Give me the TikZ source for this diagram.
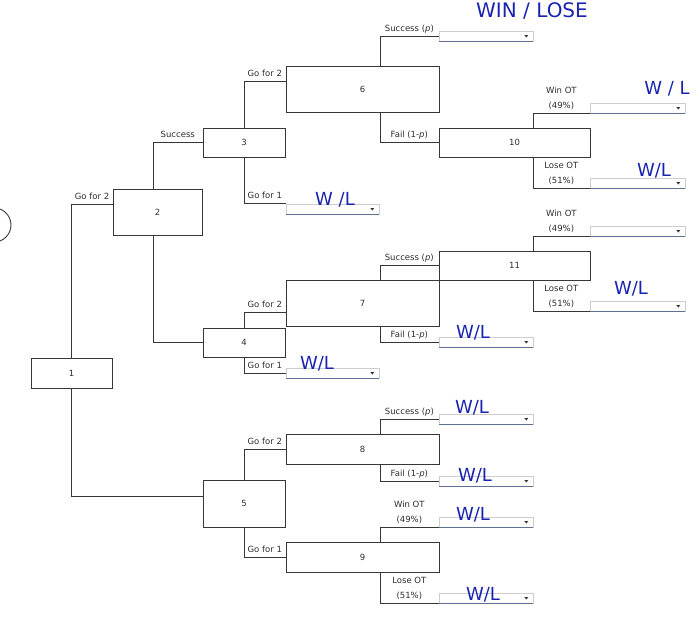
\documentclass[tikz,border=0pt]{standalone}
\usepackage{fontspec}
\setmainfont{DejaVu Sans}
\usepackage{xcolor}
\usepackage{tikz}
\usetikzlibrary{positioning, calc}
\definecolor{linegray}{RGB}{55, 55, 55}
\definecolor{textgray}{RGB}{45, 45, 45}
\definecolor{penblue}{RGB}{25, 35, 175}
\definecolor{menuedge}{RGB}{205, 205, 205}
\definecolor{menubase}{RGB}{95, 115, 145}

\begin{document}
\begin{tikzpicture}[x=1pt, y=-1pt,
    box/.style={draw=linegray, line width=0.8pt, inner sep=0pt, text=textgray,
                font=\fontsize{8.5}{10}\selectfont},
    link/.style={draw=linegray, line width=0.8pt},
    lbl/.style={font=\fontsize{8.5}{15}\selectfont, text=textgray, align=center,
                inner sep=2pt, text depth=2.5pt},
    menu/.style={draw=menuedge, line width=0.6pt, minimum height=10pt, inner sep=0pt},
    pen/.style={font=\fontsize{18}{18}\selectfont, text=penblue, inner sep=0pt}]
    \useasboundingbox (0,0) rectangle (700,629);

    % Boxes
    \node[box, minimum width=81pt, minimum height=30pt] (b1) at (71.5,373) {1};
    \node[box, minimum width=89pt, minimum height=46pt] (b2) at (157.5,212) {2};
    \node[box, minimum width=82pt, minimum height=29pt] (b3) at (244,142.5) {3};
    \node[box, minimum width=82pt, minimum height=29pt] (b4) at (244,342.5) {4};
    \node[box, minimum width=82pt, minimum height=47pt] (b5) at (244,503.5) {5};
    \node[box, minimum width=153pt, minimum height=46pt] (b6) at (362.5,89) {6};
    \node[box, minimum width=153pt, minimum height=46pt] (b7) at (362.5,303) {7};
    \node[box, minimum width=153pt, minimum height=30pt] (b8) at (362.5,449) {8};
    \node[box, minimum width=153pt, minimum height=30pt] (b9) at (362.5,557) {9};
    \node[box, minimum width=151pt, minimum height=29pt] (b10) at (514.5,142.5) {10};
    \node[box, minimum width=151pt, minimum height=29pt] (b11) at (514.5,265.5) {11};

    % Drop-down menus
    \node[menu, minimum width=93pt] (d3) at (332.5,209) {};
    \node[menu, minimum width=93pt] (d4) at (332.5,373) {};
    \node[menu, minimum width=94pt] (d6s) at (486,36) {};
    \node[menu, minimum width=94pt] (d7f) at (486,342) {};
    \node[menu, minimum width=94pt] (d8s) at (486,419) {};
    \node[menu, minimum width=94pt] (d8f) at (486,481) {};
    \node[menu, minimum width=94pt] (d9w) at (486,522) {};
    \node[menu, minimum width=94pt] (d9l) at (486,598) {};
    \node[menu, minimum width=95pt] (d10w) at (637.5,108) {};
    \node[menu, minimum width=95pt] (d10l) at (637.5,183) {};
    \node[menu, minimum width=95pt] (d11w) at (637.5,231) {};
    \node[menu, minimum width=95pt] (d11l) at (637.5,306) {};
    \foreach \m in {d3,d4,d6s,d7f,d8s,d8f,d9w,d9l,d10w,d10l,d11w,d11l} {
        \draw[menubase, line width=0.8pt] (\m.south west) -- (\m.south east);
        \fill[black!80] ([xshift=-9pt,yshift=1pt]\m.east) -- ++(4pt,0) -- ++(-2pt,-2.5pt) -- cycle;
    }

    % Connectors
    \draw[link] (b1.north) |- ([yshift=8pt]b2.west) node[lbl, pos=0.75, above] {Go for 2};
    \draw[link] (b1.south) |- ([yshift=7.5pt]b5.west);
    \draw[link] ([xshift=-4.5pt]b2.north) |- (b3.west) node[lbl, pos=0.75, above] {Success};
    \draw[link] ([xshift=-4.5pt]b2.south) |- (b4.west);
    \draw[link] (b3.north) |- ([yshift=8pt]b6.west) node[lbl, pos=0.75, above] {Go for 2};
    \draw[link] (b3.south) |- (d3.north west) node[lbl, pos=0.75, above] {Go for 1};
    \draw[link] (b4.north) |- ([yshift=-9pt]b7.west) node[lbl, pos=0.75, above] {Go for 2};
    \draw[link] (b4.south) |- (d4.west) node[lbl, pos=0.75, above] {Go for 1};
    \draw[link] (b5.north) |- (b8.west) node[lbl, pos=0.75, above] {Go for 2};
    \draw[link] (b5.south) |- (b9.west) node[lbl, pos=0.75, above] {Go for 1};
    \draw[link] ([xshift=17.5pt]b6.north) |- (d6s.west) node[lbl, pos=0.75, above] {Success (\textit{p})};
    \draw[link] ([xshift=17.5pt]b6.south) |- (b10.west) node[lbl, pos=0.75, above] {Fail (1-\textit{p})};
    \draw[link] ([xshift=17.5pt]b7.north) |- (b11.west) node[lbl, pos=0.75, above] {Success (\textit{p})};
    \draw[link] ([xshift=17.5pt]b7.south) |- (d7f.west) node[lbl, pos=0.75, above] {Fail (1-\textit{p})};
    \draw[link] ([xshift=17.5pt]b8.north) |- (d8s.west) node[lbl, pos=0.75, above] {Success (\textit{p})};
    \draw[link] ([xshift=17.5pt]b8.south) |- (d8f.west) node[lbl, pos=0.75, above] {Fail (1-\textit{p})};
    \draw[link] ([xshift=17.5pt]b9.north) |- (d9w.south west) node[lbl, pos=0.75, above] {Win OT\\(49\%)};
    \draw[link] ([xshift=17.5pt]b9.south) |- (d9l.south west) node[lbl, pos=0.75, above] {Lose OT\\(51\%)};
    \draw[link] ([xshift=18.5pt]b10.north) |- (d10w.south west) node[lbl, pos=0.75, above] {Win OT\\(49\%)};
    \draw[link] ([xshift=18.5pt]b10.south) |- (d10l.south west) node[lbl, pos=0.75, above] {Lose OT\\(51\%)};
    \draw[link] ([xshift=18.5pt]b11.north) |- (d11w.south west) node[lbl, pos=0.75, above] {Win OT\\(49\%)};
    \draw[link] ([xshift=18.5pt]b11.south) |- (d11l.south west) node[lbl, pos=0.75, above] {Lose OT\\(51\%)};

    % Handwritten answers
    \node[pen, font=\fontsize{20}{20}\selectfont] (hw6s) at (532,11) {WIN / LOSE};
    \node[pen] (hw10w) at (667,89) {W / L};
    \node[pen] (hw10l) at (654,171) {W/L};
    \node[pen] (hw11l) at (631,289) {W/L};
    \node[pen] (hw3) at (335,200) {W /L};
    \node[pen] (hw4) at (317,364) {W/L};
    \node[pen] (hw7f) at (473,333) {W/L};
    \node[pen] (hw8s) at (472,408) {W/L};
    \node[pen] (hw8f) at (475,476) {W/L};
    \node[pen] (hw9w) at (473,515) {W/L};
    \node[pen] (hw9l) at (483,595) {W/L};

    % edge of the circle on the left
    \draw[linegray, line width=0.9pt] (-6,225) circle[radius=17pt];
\end{tikzpicture}
\end{document}
